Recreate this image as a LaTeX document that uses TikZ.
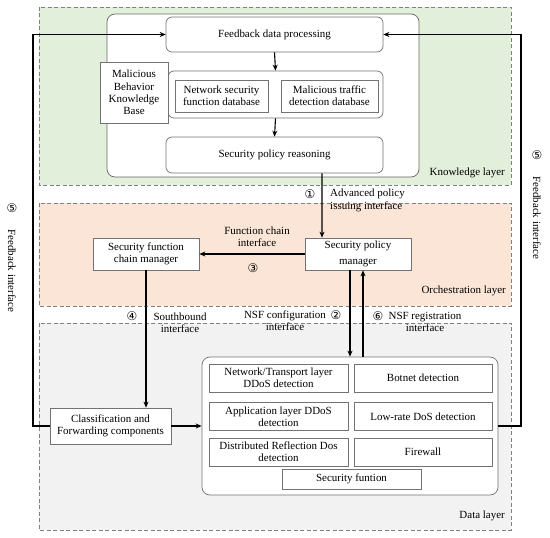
\documentclass[tikz,border=0pt]{standalone}
\usepackage{fontspec}
\setmainfont{Liberation Serif}
\newfontfamily\circfont{DejaVu Sans}
\usetikzlibrary{calc,arrows.meta}
\definecolor{greenfill}{HTML}{E2EFDA}
\definecolor{peachfill}{HTML}{FBE5D6}
\definecolor{grayfill}{HTML}{F2F2F2}
\begin{document}
\begin{tikzpicture}[x=1bp,y=-1bp,
 bx/.style={draw=black!55, fill=white, line width=0.7bp, align=center, inner sep=1bp, font=\fontsize{11}{12.3}\selectfont},
 rbx/.style={bx, rounded corners=6bp},
 arr/.style={-{Stealth[length=6bp,width=5bp]}, line width=1.1bp},
 lay/.style={draw=black!50, line width=0.8bp, dash pattern=on 4bp off 2.5bp},
 lbl/.style={font=\fontsize{11}{12.3}\selectfont, align=center, inner sep=0},
 num/.style={font=\circfont\fontsize{12}{12}\selectfont, inner sep=0}]
\useasboundingbox (0,0) rectangle (550,538);
% layers
\draw[lay, fill=greenfill] (39,7) rectangle (511,185);
\draw[lay, fill=peachfill] (39,203) rectangle (511,306);
\draw[lay, fill=grayfill] (39,323) rectangle (511,530);
\node[lbl, anchor=base east] (kl) at (505,176) {Knowledge layer};
\node[lbl, anchor=base east] (ol) at (506,293) {Orchestration layer};
\node[lbl, anchor=base east] (dl) at (505,518) {Data layer};
% knowledge layer
\draw[draw=black!60, fill=white, rounded corners=8bp, line width=0.7bp] (107,14) rectangle (419,177);
\node[rbx, minimum width=217bp, minimum height=35bp] (fdp) at (274.5,34.5) {Feedback data processing};
\node[rbx, minimum width=215bp, minimum height=47bp] (db) at (275.5,94.5) {};
\node[bx, minimum width=93bp, minimum height=32bp] (nsfd) at (221.5,96) {Network security\\function database};
\node[bx, minimum width=97bp, minimum height=32bp] (mtdd) at (329.5,96) {Malicious traffic\\detection database};
\node[rbx, minimum width=217bp, minimum height=36bp] (spr) at (274.5,155) {Security policy reasoning};
\node[bx, minimum width=68bp, minimum height=61bp] (mbkb) at (134,92.5) {Malicious\\Behavior\\Knowledge\\Base};
\draw[arr] (fdp.south) -- (db.north);
\draw[arr] (db.south) -- (spr.north);
% orchestration layer
\node[bx, minimum width=106bp, minimum height=32bp] (sfcm) at (146,254) {Security function\\chain manager};
\node[bx, minimum width=106bp, minimum height=32bp] (spm) at (358,254) {Security policy\\[4bp]manager};
\draw[arr] ($(spr.south)+(47.5,0)$) -- ($(spm.north)+(-36,0)$);
\node[num] (n1) at (310,194) {①};
\node[lbl, anchor=north west, align=left] (api) at (330,189) {Advanced policy\\issuing interface};
\draw[arr] (spm.west) -- (sfcm.east);
\node[lbl] (fci) at (257,237) {Function chain\\interface};
\node[num] (n3) at (253,268) {③};
% data layer
\node[bx, minimum width=121bp, minimum height=36bp] (cfc) at (110.5,426) {Classification and\\Forwarding components};
\node[rbx, rounded corners=8bp, minimum width=296bp, minimum height=138bp] (sf) at (350,426) {};
\node[bx, minimum width=139bp, minimum height=28bp] (ntl) at (278.5,378) {Network/Transport layer\\DDoS detection};
\node[bx, minimum width=138bp, minimum height=28bp] (bot) at (423,378) {Botnet detection};
\node[bx, minimum width=139bp, minimum height=28bp] (app) at (278.5,416.5) {Application layer DDoS\\detection};
\node[bx, minimum width=138bp, minimum height=28bp] (low) at (423,416.5) {Low-rate DoS detection};
\node[bx, minimum width=139bp, minimum height=28bp] (drd) at (278.5,452) {Distributed Reflection Dos\\detection};
\node[bx, minimum width=138bp, minimum height=28bp] (fw) at (423,452) {Firewall};
\node[bx, minimum width=139bp, minimum height=20bp] (sfn) at (351.5,479) {Security funtion};
\draw[arr] (sfcm.south) -- (sfcm.south |- cfc.north);
\node[num] (n4) at (132,316) {④};
\node[lbl] (sbi) at (180,322.5) {Southbound\\interface};
\coordinate (dn) at ($(spm.south)+(-8,0)$);
\coordinate (up) at ($(spm.south)+(5,0)$);
\draw[arr] (dn) -- (dn |- sf.north);
\draw[arr] (up |- sf.north) -- (up);
\node[lbl] (nci) at (285,321) {NSF configuration\\interface};
\node[num] (n2) at (336,315) {②};
\node[num] (n6) at (378,316) {⑥};
\node[lbl] (nri) at (425,322) {NSF registration\\interface};
\draw[arr] (cfc.east) -- (sf.west);
% feedback loops
\coordinate (fl) at (33,0);
\coordinate (fr) at (521,0);
\draw[arr] (cfc.west) -- (cfc.west -| fl) -- (fdp.west -| fl) -- (fdp.west);
\draw[arr] (sf.east) -- (sf.east -| fr) -- (fdp.east -| fr) -- (fdp.east);
\node[num] (n5l) at (12,208) {⑤};
\node[lbl, rotate=-90] (fil) at (12,271) {Feedback interface};
\node[num] (n5r) at (537,155) {⑤};
\node[lbl, rotate=-90] (fir) at (537,218) {Feedback interface};
\end{tikzpicture}
\end{document}
